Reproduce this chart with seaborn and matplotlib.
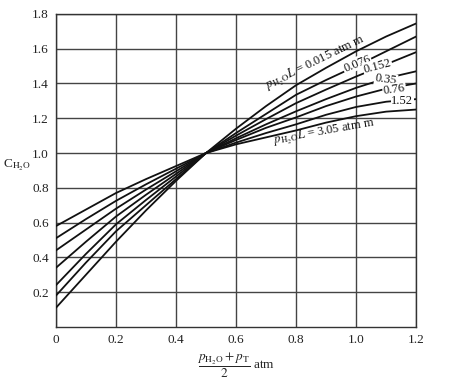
import numpy as np
import pandas as pd
import seaborn as sns
import matplotlib
matplotlib.use("Agg")
import matplotlib.pyplot as plt

# values
x_vals = [0.0, 0.1, 0.2, 0.3, 0.4, 0.5, 0.6, 0.7, 0.8, 0.9, 1.0, 1.1, 1.2]
pl_labels = ["0.015", "0.076", "0.152", "0.35", "0.76", "1.52", "3.05"]
c_0015 = [0.11, 0.30, 0.49, 0.67, 0.84, 1.0, 1.14, 1.27, 1.39, 1.49, 1.585, 1.67, 1.745]
c_0076 = [0.18, 0.37, 0.55, 0.70, 0.85, 1.0, 1.115, 1.225, 1.335, 1.42, 1.50, 1.585, 1.67]
c_0152 = [0.24, 0.42, 0.59, 0.73, 0.865, 1.0, 1.10, 1.195, 1.287, 1.365, 1.44, 1.51, 1.58]
c_035 = [0.34, 0.49, 0.635, 0.76, 0.88, 1.0, 1.085, 1.165, 1.24, 1.31, 1.375, 1.43, 1.47]
c_076 = [0.44, 0.56, 0.68, 0.79, 0.895, 1.0, 1.075, 1.145, 1.205, 1.27, 1.325, 1.37, 1.40]
c_152 = [0.51, 0.62, 0.725, 0.82, 0.91, 1.0, 1.06, 1.115, 1.165, 1.22, 1.265, 1.295, 1.31]
c_305 = [0.58, 0.675, 0.77, 0.85, 0.925, 1.0, 1.05, 1.09, 1.13, 1.175, 1.212, 1.238, 1.25]
x_ticks = [0, 0.2, 0.4, 0.6, 0.8, 1.0, 1.2]
x_tick_labels = ["0", "0.2", "0.4", "0.6", "0.8", "1.0", "1.2"]
y_ticks = [0.2, 0.4, 0.6, 0.8, 1.0, 1.2, 1.4, 1.6, 1.8]
y_tick_labels = ["0.2", "0.4", "0.6", "0.8", "1.0", "1.2", "1.4", "1.6", "1.8"]

curves = [c_0015, c_0076, c_0152, c_035, c_076, c_152, c_305]
df = pd.concat(
    [pd.DataFrame({"x": x_vals, "c": c, "pL": lab}) for lab, c in zip(pl_labels, curves)],
    ignore_index=True,
)

sns.set_theme(style="white")
plt.rcParams["font.family"] = ["Liberation Serif", "DejaVu Serif"]
plt.rcParams["mathtext.fontset"] = "stix"

fig = plt.figure(figsize=(4.74, 3.86), dpi=100)
ax = fig.add_axes([0.118, 0.153, 0.760, 0.811])

sns.lineplot(data=df, x="x", y="c", hue="pL", palette=["#111111"] * 7,
             linewidth=1.3, legend=False, ax=ax, zorder=3)

ax.set_xlim(0, 1.2)
ax.set_ylim(0, 1.8)
ax.set_xticks(x_ticks)
ax.set_xticklabels(x_tick_labels)
ax.set_yticks(y_ticks)
ax.set_yticklabels(y_tick_labels)
ax.tick_params(length=0, labelsize=9.5, colors="#222222", pad=5)
ax.grid(True, color="#444444", linewidth=1.0)
for s in ax.spines.values():
    s.set_color("#333333")
    s.set_linewidth(1.0)

ax.set_xlabel(r"$\dfrac{p_{\mathrm{H_2O}}+p_{\mathrm{T}}}{2}$ atm", fontsize=9.5, labelpad=4)
ax.set_ylabel(r"C$_{\mathrm{H_2O}}$", fontsize=9.5, rotation=0, ha="center", va="center")
ax.yaxis.set_label_coords(-0.108, 0.515)

# curve labels
lbl = dict(fontsize=9, color="#111111", ha="center", va="center", zorder=4)
box = dict(facecolor="white", edgecolor="none", pad=0.5)
ax.text(0.866, 1.52, r"$p_{\mathrm{H_2O}}L$ = 0.015 atm m", rotation=26, **lbl)
ax.text(1.003, 1.515, "0.076", rotation=22, bbox=box, **lbl)
ax.text(1.071, 1.50, "0.152", rotation=15, bbox=box, **lbl)
ax.text(1.099, 1.42, "0.35", rotation=-8, bbox=box, **lbl)
ax.text(1.127, 1.365, "0.76", rotation=8, bbox=box, **lbl)
ax.text(1.154, 1.30, "1.52", rotation=0, bbox=box, **lbl)
ax.text(0.893, 1.12, r"$p_{\mathrm{H_2O}}L$ = 3.05 atm m", rotation=10, **lbl)

fig.savefig("out.png", dpi=100, facecolor="white")
